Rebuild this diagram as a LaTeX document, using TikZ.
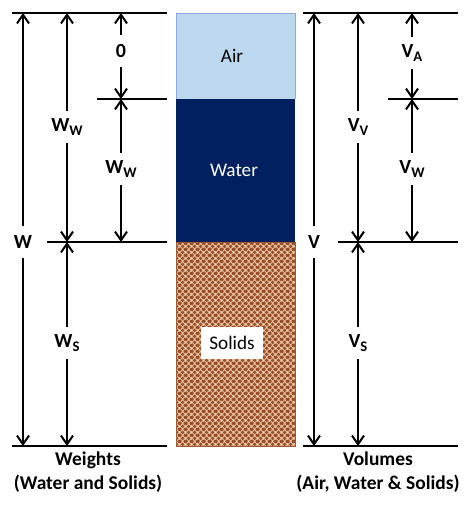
\documentclass[tikz,border=0pt]{standalone}
\usepackage{fontspec}
\setmainfont{Carlito}
\usetikzlibrary{arrows.meta,patterns.meta}
\definecolor{airblue}{HTML}{BDD7EE}
\definecolor{airedge}{HTML}{8FAADC}
\definecolor{waterblue}{HTML}{002060}
\definecolor{soilL}{HTML}{EBC6A6}
\definecolor{soilB}{HTML}{974E28}
\definecolor{soilEdge}{HTML}{9C5A34}
\tikzdeclarepattern{
  name=soil,
  type=colored,
  bottom left={(0pt,0pt)},
  top right={(4.5pt,4.5pt)},
  tile size={(4.5pt,4.5pt)},
  code={
    \fill[soilB] (2.25pt,2.25pt) circle[radius=1.6pt];
    \fill[soilB] (0pt,0pt) circle[radius=1.6pt];
    \fill[soilB] (4.5pt,0pt) circle[radius=1.6pt];
    \fill[soilB] (0pt,4.5pt) circle[radius=1.6pt];
    \fill[soilB] (4.5pt,4.5pt) circle[radius=1.6pt];
  }
}
\newcommand{\sbs}[1]{\raisebox{-0.22em}{\fontsize{11}{12}\selectfont #1}}
\tikzset{
  hline/.style={line width=1.1pt},
  dimarrow/.style={line width=1.5pt,-{Straight Barb[length=6.5pt,width=9pt,line width=1.5pt]}},
  dimlabel/.style={font=\fontsize{15}{17}\selectfont\bfseries, minimum height=24pt, inner sep=0pt},
  caption/.style={font=\fontsize{14.6}{17.5}\selectfont\bfseries, align=center, inner sep=0pt},
  phase/.style={font=\fontsize{14.4}{17}\selectfont, inner sep=0pt},
}
\begin{document}
\begin{tikzpicture}[x=0.75pt,y=-0.75pt]
\useasboundingbox (0,0) rectangle (474,507);
% column
\fill[airblue] (176,13) rectangle (295,99);
\draw[airedge, line width=0.6pt] (176,99) -- (176,13) -- (295,13) -- (295,99);
\fill[waterblue] (176,99) rectangle (295,242);
\fill[soilL] (176,242) rectangle (295,446);
\fill[pattern=soil] (176,242) rectangle (295,446);
\draw[soilEdge, line width=0.6pt] (176,242) rectangle (295,446);
\node[phase] (air) at (232,56) {Air};
\node[phase, text=white] (water) at (234,170) {Water};
\node[phase, fill=white, minimum width=47pt, minimum height=24pt] (solids) at (232,343) {Solids};

% ---- left side lines
\coordinate (L1a) at (12,13);   \coordinate (L1b) at (167,13);
\coordinate (L2a) at (97,99);   \coordinate (L2b) at (167,99);
\coordinate (L3a) at (47,242);  \coordinate (L3b) at (167,242);
\coordinate (L4a) at (12,446);  \coordinate (L4b) at (167,446);
\draw[hline] (L1a) -- (L1b);
\draw[hline] (L2a) -- (L2b);
\draw[hline] (L3a) -- (L3b);
\draw[hline] (L4a) -- (L4b);

% W
\coordinate (Wt) at (23,13); \coordinate (Wb) at (23,446);
\node[dimlabel] (lW) at (23,242) {W};
\draw[dimarrow] (lW) -- (Wt);
\draw[dimarrow] (lW) -- (Wb);
% Ww (total)
\coordinate (Wwt) at (67,13); \coordinate (Wwb) at (67,242);
\node[dimlabel] (lWw) at (67,127) {W\sbs{W}};
\draw[dimarrow] (lWw) -- (Wwt);
\draw[dimarrow] (lWw) -- (Wwb);
% 0
\coordinate (Zt) at (121,13); \coordinate (Zb) at (121,99);
\node[dimlabel] (lZ) at (121,51) {0};
\draw[dimarrow] (lZ) -- (Zt);
\draw[dimarrow] (lZ) -- (Zb);
% Ww (water)
\coordinate (W2t) at (121,99); \coordinate (W2b) at (121,242);
\node[dimlabel] (lW2) at (121,169) {W\sbs{W}};
\draw[dimarrow] (lW2) -- (W2t);
\draw[dimarrow] (lW2) -- (W2b);
% Ws
\coordinate (Wst) at (67,242); \coordinate (Wsb) at (67,446);
\node[dimlabel] (lWs) at (67,343) {W\sbs{S}};
\draw[dimarrow] (lWs) -- (Wst);
\draw[dimarrow] (lWs) -- (Wsb);

% ---- right side lines
\coordinate (R1a) at (303,13);  \coordinate (R1b) at (458,13);
\coordinate (R2a) at (388,99);  \coordinate (R2b) at (458,99);
\coordinate (R3a) at (338,242); \coordinate (R3b) at (458,242);
\coordinate (R4a) at (303,446); \coordinate (R4b) at (458,446);
\draw[hline] (R1a) -- (R1b);
\draw[hline] (R2a) -- (R2b);
\draw[hline] (R3a) -- (R3b);
\draw[hline] (R4a) -- (R4b);

% V
\coordinate (Vt) at (314,13); \coordinate (Vb) at (314,446);
\node[dimlabel] (lV) at (314,242) {V};
\draw[dimarrow] (lV) -- (Vt);
\draw[dimarrow] (lV) -- (Vb);
% Vv
\coordinate (Vvt) at (358,13); \coordinate (Vvb) at (358,242);
\node[dimlabel] (lVv) at (358,127) {V\sbs{V}};
\draw[dimarrow] (lVv) -- (Vvt);
\draw[dimarrow] (lVv) -- (Vvb);
% Va
\coordinate (Vat) at (412,13); \coordinate (Vab) at (412,99);
\node[dimlabel] (lVa) at (412,53) {V\sbs{A}};
\draw[dimarrow] (lVa) -- (Vat);
\draw[dimarrow] (lVa) -- (Vab);
% Vw
\coordinate (Vwt) at (412,99); \coordinate (Vwb) at (412,242);
\node[dimlabel] (lVw) at (412,169) {V\sbs{W}};
\draw[dimarrow] (lVw) -- (Vwt);
\draw[dimarrow] (lVw) -- (Vwb);
% Vs
\coordinate (Vst) at (358,242); \coordinate (Vsb) at (358,446);
\node[dimlabel] (lVs) at (358,343) {V\sbs{S}};
\draw[dimarrow] (lVs) -- (Vst);
\draw[dimarrow] (lVs) -- (Vsb);

% captions
\node[caption] (capW) at (88,472) {Weights\\(Water and Solids)};
\node[caption] (capV) at (378,472) {Volumes\\(Air, Water \& Solids)};
\end{tikzpicture}
\end{document}
